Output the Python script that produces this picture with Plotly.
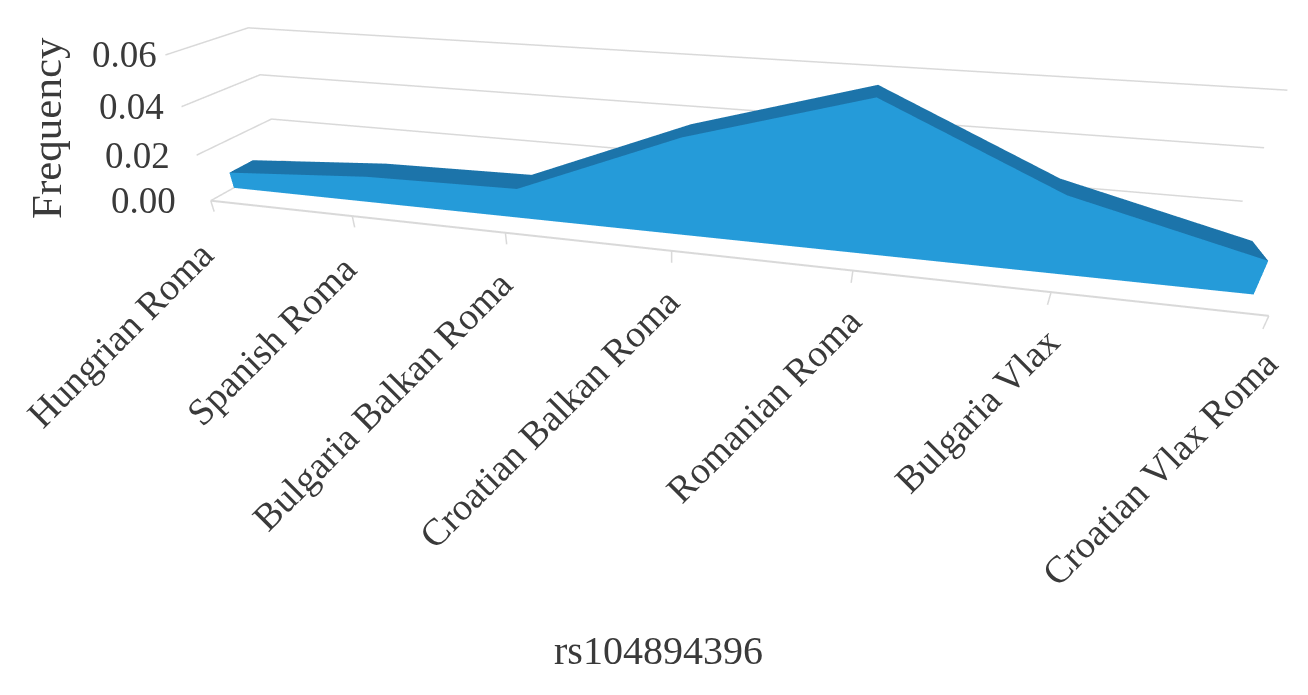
import plotly.graph_objects as go

categories = ["Hungrian Roma", "Spanish Roma", "Bulgaria Balkan Roma", "Croatian Balkan Roma",
              "Romanian Roma", "Bulgaria Vlax", "Croatian Vlax Roma"]
values = [0.007, 0.0113, 0.0124, 0.0388, 0.058, 0.0295, 0.0128]
freq_ticks = [0.0, 0.02, 0.04, 0.06]

n = len(categories)
FRONT, BACK = 0.0, 1.0
AREA_Y0, AREA_Y1 = 0.3, 0.62
FONT = "Liberation Serif"
TEXT = "#3a3a3a"
GRID = "#d9d9d9"

xs = list(range(n))


def strip(x, y, z):
    # two rows of n vertices joined into triangles
    i, j, k = [], [], []
    for a in range(n - 1):
        i += [a, a + 1]
        j += [a + 1, n + a + 1]
        k += [n + a, n + a]
    return dict(x=x, y=y, z=z, i=i, j=j, k=k)


flat = dict(ambient=1, diffuse=0, specular=0, fresnel=0)
fig = go.Figure()
# front face
fig.add_trace(go.Mesh3d(**strip(xs + xs, [AREA_Y0] * (2 * n), values + [0.0] * n), color="#259bd9",
                        flatshading=True, lighting=flat, hoverinfo="skip"))
# top of the area
fig.add_trace(go.Mesh3d(**strip(xs + xs, [AREA_Y0] * n + [AREA_Y1] * n, values + values), color="#1c74aa",
                        flatshading=True, lighting=flat, hoverinfo="skip"))


def line(x, y, z, width=3):
    fig.add_trace(go.Scatter3d(x=x, y=y, z=z, mode="lines", line=dict(color=GRID, width=width),
                               hoverinfo="skip", showlegend=False))


# gridlines on side wall and back wall
for t in freq_ticks:
    line([0, 0, n - 1], [FRONT, BACK, BACK], [t, t, t])
# category axis and ticks
line([0, n - 1], [FRONT, FRONT], [0, 0], 4)
for x in xs:
    line([x, x], [FRONT, FRONT], [0, -0.005])

annotations = []
for x, name in zip(xs, categories):
    annotations.append(dict(x=x, y=FRONT, z=-0.008, text=name, textangle=-45, showarrow=False,
                            xanchor="right", yanchor="top", xshift=8 + x * 3.5, yshift=-12 + x * 1.5,
                            font=dict(family=FONT, size=38, color=TEXT)))
for t in freq_ticks:
    annotations.append(dict(x=0, y=FRONT, z=t, text=f"{t:.2f}", showarrow=False, xanchor="right",
                            xshift=-33 + t * 440, font=dict(family=FONT, size=37, color=TEXT)))

hidden = dict(visible=False)
fig.update_layout(
    width=1308, height=695,
    margin=dict(l=0, r=0, t=0, b=0),
    paper_bgcolor="white",
    showlegend=False,
    scene=dict(
        xaxis=dict(hidden, range=[0, n - 1]),
        yaxis=dict(hidden, range=[0, 1]),
        # a little room above 0.06 so the top gridline is not clipped
        zaxis=dict(hidden, range=[-0.012, 0.062]),
        aspectmode="manual",
        aspectratio=dict(x=2.265, y=0.28, z=0.4155),
        camera=dict(eye=dict(x=0.368, y=-1.7085, z=0.641), center=dict(x=-0.036, y=-0.08, z=-0.448),
                    up=dict(x=0, y=0, z=1)),
        annotations=annotations,
        domain=dict(x=[0, 1], y=[0, 1]),
    ),
    annotations=[
        dict(text="rs104894396", x=650 / 1308, y=1 - 642 / 695, xref="paper", yref="paper", showarrow=False,
             xanchor="center", yanchor="middle", font=dict(family=FONT, size=40, color=TEXT)),
        dict(text="Frequency", x=38 / 1308, y=1 - 120 / 695, xref="paper", yref="paper", showarrow=False,
             textangle=-90, xanchor="center", yanchor="middle", font=dict(family=FONT, size=43, color=TEXT)),
    ],
)

fig.write_html("out.html")
